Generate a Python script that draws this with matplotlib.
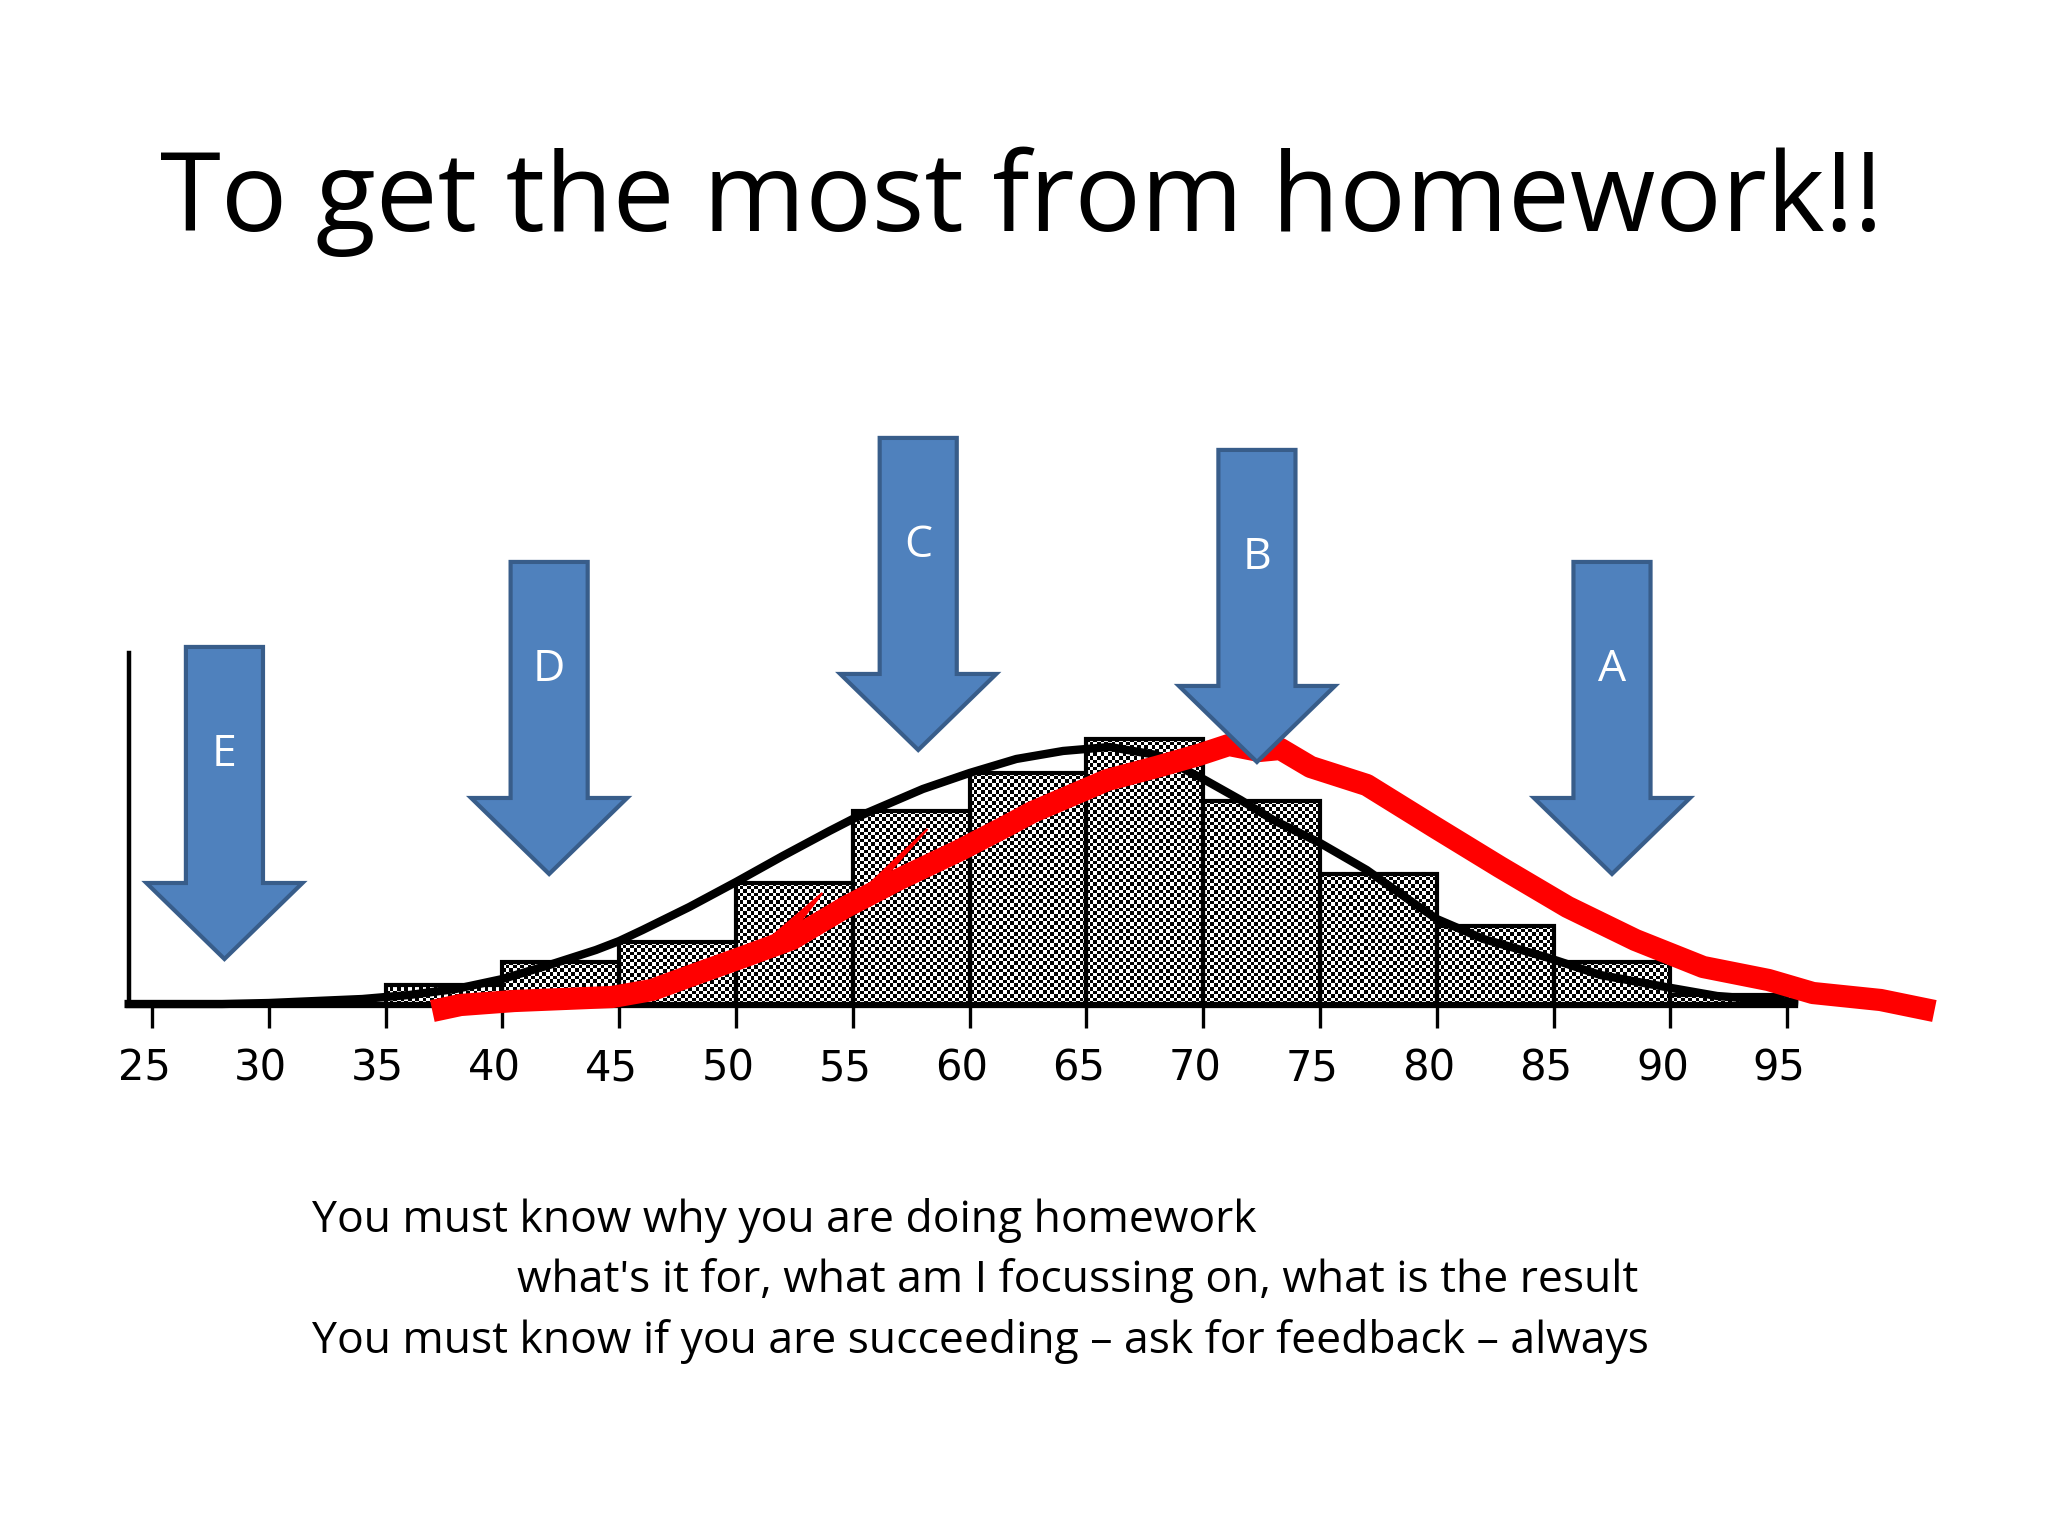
import matplotlib.pyplot as plt
import numpy as np
from matplotlib.patches import Polygon
from matplotlib.transforms import ScaledTranslation

plt.rcParams['font.family'] = ['Open Sans', 'DejaVu Sans']

#%% data
bin_left = [35, 40, 45, 50, 55, 60, 65, 70, 75, 80, 85, 90]
bar_height = [2.0, 4.3, 6.3, 12.2, 19.4, 23.2, 26.6, 20.4, 13.1, 7.9, 4.3, 1.0]

# fitted curve
curve_x = [24.0, 28, 30, 32, 34, 36, 38, 40, 42, 44, 45, 46, 48, 50, 52, 54, 55, 56,
           58, 60, 62, 64, 66, 68, 70, 71.6, 73, 75, 77, 79, 80, 82, 84.8, 87, 89.8,
           92, 95.3]
curve_y = [0.1, 0.1, 0.2, 0.4, 0.6, 1.0, 1.6, 2.6, 4.0, 5.5, 6.4, 7.5, 9.8, 12.3, 14.9,
           17.4, 18.6, 19.6, 21.6, 23.2, 24.6, 25.4, 25.8, 25.0, 22.6, 20.5, 18.5, 16.2,
           13.5, 10.2, 8.6, 6.6, 4.7, 3.0, 1.8, 0.9, 0.3]

# hand drawn red line
red_x = [37.0, 38.2, 40.5, 44.7, 46.4, 47.8, 50.3, 52.4, 54.7, 57.0, 59.6, 61.5, 62.7,
         65.9, 68.0, 69.8, 71.1, 72.4, 73.3, 74.6, 77.0, 79.9, 82.7, 85.6, 88.5, 91.4,
         94.2, 96.1, 99.0, 101.3]
red_y = [-0.6, 0.0, 0.4, 0.8, 1.5, 2.7, 4.8, 6.6, 9.8, 12.6, 15.5, 17.8, 19.3, 22.5,
         23.8, 25.0, 26.0, 25.4, 25.6, 23.8, 22.0, 17.8, 13.8, 9.8, 6.5, 3.8, 2.5, 1.2,
         0.5, -0.6]
# two little pen flicks on the red line
flick1_x = [51.5, 52.7, 53.7]
flick1_y = [6.8, 8.2, 11.2]
flick2_x = [55.3, 56.6, 58.2]
flick2_y = [11.2, 13.4, 17.6]

grades = ['E', 'D', 'C', 'B', 'A']
grade_x = [28.1, 42.0, 57.8, 72.3, 87.5]
grade_tip = [4.6, 13.1, 25.5, 24.3, 13.1]

ticks = list(range(25, 100, 5))

title = "To get the most from homework!!"
notes = ["You must know why you are doing homework",
         "what's it for, what am I focussing on, what is the result",
         "You must know if you are succeeding \u2013 ask for feedback \u2013 always"]

#%% figure
fig = plt.figure(figsize=(20.48, 15.36), dpi=100)
ax = fig.add_axes([0.0630, 0.3457, 0.9009, 0.2292])
ax.set_xlim(24.015, 103)
ax.set_ylim(0, 35.2)

# checker texture inside the bars
for x0, h in zip(bin_left, bar_height):
    nx = 32
    ny = max(1, int(round(h / 0.36)))
    chk = (np.add.outer(np.arange(ny), np.arange(nx)) % 2).astype(float)
    ax.imshow(chk, cmap='gray', extent=(x0, x0 + 5, 0, h), aspect='auto',
              interpolation='nearest', zorder=1, vmin=0, vmax=1)
ax.bar(bin_left, bar_height, width=5, align='edge', fill=False,
       edgecolor='black', linewidth=3, zorder=2)

ax.plot(curve_x, curve_y, color='black', lw=6, zorder=3, clip_on=False)

ax.plot(red_x, red_y, color='#ff0000', lw=16, solid_capstyle='butt',
        solid_joinstyle='round', zorder=4, clip_on=False)
for fx, fy in [(flick1_x, flick1_y), (flick2_x, flick2_y)]:
    ax.add_patch(Polygon(list(zip(fx, fy)), closed=True, facecolor='#ff0000',
                         edgecolor='#ff0000', lw=1.5, zorder=4))

# grade arrows
for g, gx, tip in zip(grades, grade_x, grade_tip):
    sw, hw, hl, ln = 1.65, 3.34, 7.6, 31.2
    pts = [(gx, tip), (gx + hw, tip + hl), (gx + sw, tip + hl), (gx + sw, tip + ln),
           (gx - sw, tip + ln), (gx - sw, tip + hl), (gx - hw, tip + hl)]
    ax.add_patch(Polygon(pts, closed=True, facecolor='#4f81bd', edgecolor='#385d8a',
                         lw=3, zorder=5, clip_on=False))
    ax.text(gx, tip + ln - 10.8, g, color='white', fontsize=32, ha='center',
            va='center', zorder=6)

for s in ['top', 'right']:
    ax.spines[s].set_visible(False)
ax.spines['left'].set_linewidth(3.2)
ax.spines['bottom'].set_linewidth(4.5)
ax.spines['bottom'].set_bounds(24.015, 95.35)
ax.set_yticks([])
ax.set_xticks(ticks)
ax.set_xticklabels([str(t) for t in ticks], fontsize=30,
                   family=['DejaVu Sans'])
ax.tick_params(axis='x', length=16.5, width=2.4, pad=14, direction='out')
offset = ScaledTranslation(-8 / 100, 0, fig.dpi_scale_trans)
for lbl in ax.get_xticklabels():
    lbl.set_transform(lbl.get_transform() + offset)
ax.patch.set_alpha(0)

fig.text(0.499, 0.8496, title, fontsize=79.5, ha='center', va='baseline')
fig.text(0.1523, 0.1979, notes[0], fontsize=32, va='baseline')
fig.text(0.2524, 0.1589, notes[1], fontsize=32, va='baseline')
fig.text(0.1523, 0.1191, notes[2], fontsize=32, va='baseline')

fig.savefig('out.png', dpi=100)
